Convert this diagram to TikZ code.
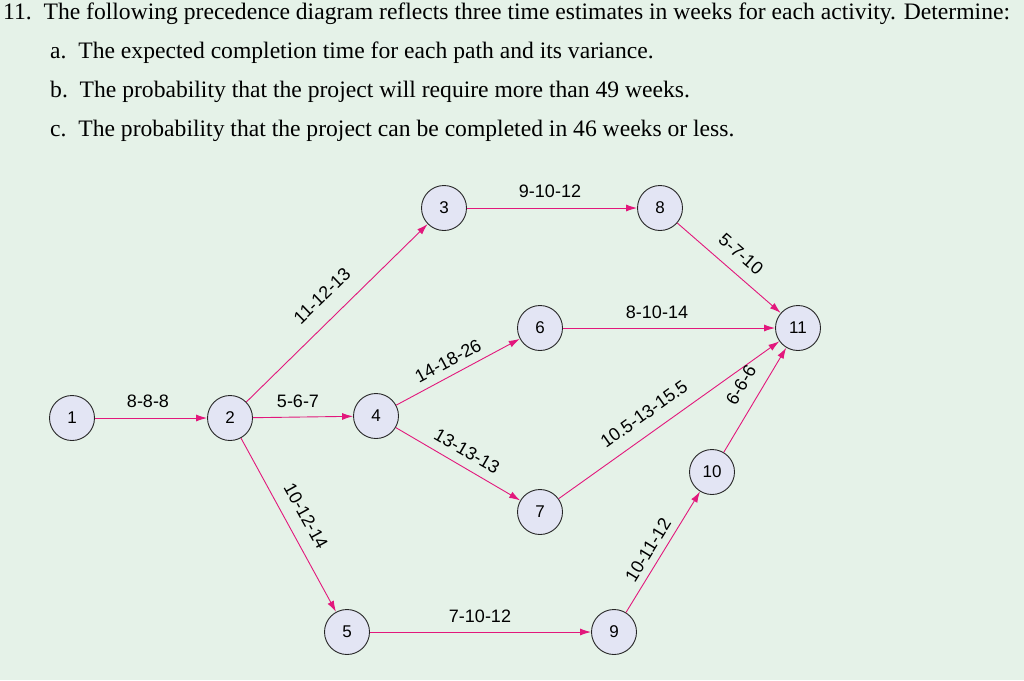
\documentclass[tikz,border=0pt]{standalone}
\usepackage{fontspec}
\setmainfont{Liberation Serif}
\newfontfamily\lab{Liberation Sans}
\usetikzlibrary{arrows.meta}
\definecolor{bg}{HTML}{E5F2E8}
\definecolor{arr}{HTML}{E2187C}
\definecolor{nf}{HTML}{E3E5F4}
\tikzset{
 nd/.style={circle,draw=black!85,line width=0.9pt,fill=nf,minimum size=45pt,inner sep=0pt,font=\lab\fontsize{17}{17}\selectfont},
 ar/.style={draw=arr,line width=0.9pt,-{Latex[length=11pt,width=7pt]}},
 el/.style={font=\lab\fontsize{18}{18}\selectfont,inner sep=1pt},
 tx/.style={anchor=west,font=\fontsize{23.6}{23.6}\selectfont,inner sep=0pt}
}
\begin{document}
\begin{tikzpicture}[x=1pt,y=-1pt]
\fill[bg] (0,0) rectangle (1024,680);
\useasboundingbox (0,0) rectangle (1024,680);
\node[tx] (t0) at (3,14) {11.\ \ The following precedence diagram reflects three time estimates in weeks for each activity. Determine:};
\node[tx] (ta) at (50,53) {a.\ \ The expected completion time for each path and its variance.};
\node[tx] (tb) at (50,92) {b.\ \ The probability that the project will require more than 49 weeks.};
\node[tx] (tc) at (50,131) {c.\ \ The probability that the project can be completed in 46 weeks or less.};
\node[nd] (n1) at (72,418) {1};
\node[nd] (n2) at (230,418) {2};
\node[nd] (n3) at (444,208) {3};
\node[nd] (n4) at (376,416) {4};
\node[nd] (n5) at (347,632) {5};
\node[nd] (n6) at (540,328) {6};
\node[nd] (n7) at (540,512) {7};
\node[nd] (n8) at (660,208) {8};
\node[nd] (n9) at (614,632) {9};
\node[nd] (n10) at (712,472) {10};
\node[nd] (n11) at (798,328) {11};
\draw[ar] (n1) -- (n2);
\draw[ar] (n2) -- (n3);
\draw[ar] (n2) -- (n4);
\draw[ar] (n2) -- (n5);
\draw[ar] (n3) -- (n8);
\draw[ar] (n4) -- (n6);
\draw[ar] (n4) -- (n7);
\draw[ar] (n5) -- (n9);
\draw[ar] (n6) -- (n11);
\draw[ar] (n7) -- (n11);
\draw[ar] (n8) -- (n11);
\draw[ar] (n9) -- (n10);
\draw[ar] (n10) -- (n11);
\node[el] (l12) at (148,401) {8-8-8};
\node[el,rotate=44] (l23) at (322,296) {11-12-13};
\node[el] (l24) at (298,401) {5-6-7};
\node[el,rotate=-61] (l25) at (306,516) {10-12-14};
\node[el,rotate=28] (l46) at (448,361) {14-18-26};
\node[el,rotate=-30] (l47) at (467,451) {13-13-13};
\node[el] (l38) at (550,191) {9-10-12};
\node[el] (l611) at (657,312) {8-10-14};
\node[el,rotate=-41] (l811) at (741,254) {5-7-10};
\node[el,rotate=35.5] (l711) at (644,414) {10.5-13-15.5};
\node[el,rotate=59] (l1011) at (741,385) {6-6-6};
\node[el] (l59) at (480,616) {7-10-12};
\node[el,rotate=58.5] (l910) at (648,550) {10-11-12};
\end{tikzpicture}
\end{document}
